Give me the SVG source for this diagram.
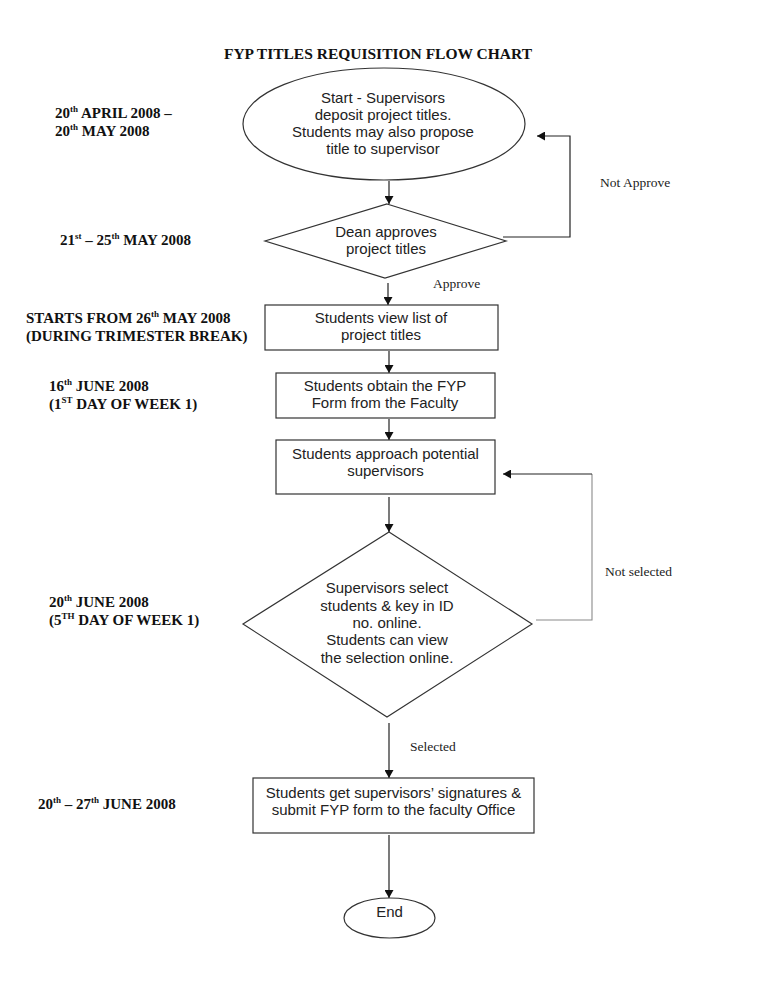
<svg xmlns="http://www.w3.org/2000/svg" width="768" height="994" viewBox="0 0 768 994">
<defs>
<style>
.bg{fill:#ffffff}
.shape{fill:#ffffff;stroke:#333333;stroke-width:1.2}
.conn{fill:none;stroke:#222222;stroke-width:1.2}
.conn.light{stroke:#8a8a8a;stroke-width:1.1}
.node{font-family:"Liberation Sans",Arial,sans-serif;font-size:15px;fill:#222222;text-anchor:middle}
.date{font-family:"Liberation Serif","Times New Roman",serif;font-size:15px;font-weight:bold;fill:#111111}
.title{font-family:"Liberation Serif","Times New Roman",serif;font-size:15.5px;font-weight:bold;fill:#111111;text-anchor:middle}
.lbl{font-family:"Liberation Serif","Times New Roman",serif;font-size:13.5px;fill:#222222}
.sup{font-size:9px}
</style>
<marker id="arr" markerUnits="userSpaceOnUse" markerWidth="8" markerHeight="9" refX="8" refY="4.5" orient="auto">
<path d="M0,0 L8,4.5 L0,9 z" fill="#111111"/>
</marker>
</defs>
<rect class="bg" x="0" y="0" width="768" height="994"/>

<text class="title" x="378" y="59">FYP TITLES REQUISITION FLOW CHART</text>

<g id="dates">
<text class="date" x="55" y="118">20<tspan class="sup" dy="-6">th</tspan><tspan dy="6"> APRIL 2008 –</tspan></text>
<text class="date" x="55" y="136">20<tspan class="sup" dy="-6">th</tspan><tspan dy="6"> MAY 2008</tspan></text>
<text class="date" x="60" y="245">21<tspan class="sup" dy="-6">st</tspan><tspan dy="6"> – 25</tspan><tspan class="sup" dy="-6">th</tspan><tspan dy="6"> MAY 2008</tspan></text>
<text class="date" x="26" y="323">STARTS FROM 26<tspan class="sup" dy="-6">th</tspan><tspan dy="6"> MAY 2008</tspan></text>
<text class="date" x="26" y="341">(DURING TRIMESTER BREAK)</text>
<text class="date" x="49" y="391">16<tspan class="sup" dy="-6">th</tspan><tspan dy="6"> JUNE 2008</tspan></text>
<text class="date" x="49" y="409">(1<tspan class="sup" dy="-6">ST</tspan><tspan dy="6"> DAY OF WEEK 1)</tspan></text>
<text class="date" x="49" y="607">20<tspan class="sup" dy="-6">th</tspan><tspan dy="6"> JUNE 2008</tspan></text>
<text class="date" x="49" y="625">(5<tspan class="sup" dy="-6">TH</tspan><tspan dy="6"> DAY OF WEEK 1)</tspan></text>
<text class="date" x="38" y="809">20<tspan class="sup" dy="-6">th</tspan><tspan dy="6"> – 27</tspan><tspan class="sup" dy="-6">th</tspan><tspan dy="6"> JUNE 2008</tspan></text>
</g>

<g id="connectors">
<path class="conn" d="M389,181 V204" marker-end="url(#arr)"/>
<path class="conn" d="M503,237 H570 V136 H537" marker-end="url(#arr)"/>
<path class="conn" d="M388,283 V305" marker-end="url(#arr)"/>
<path class="conn" d="M389,351 V373" marker-end="url(#arr)"/>
<path class="conn" d="M389,419 V440" marker-end="url(#arr)"/>
<path class="conn" d="M389,497 V532" marker-end="url(#arr)"/>
<path class="conn light" d="M536,620 H592 V474"/>
<path class="conn" d="M592,474 H503" marker-end="url(#arr)"/>
<path class="conn" d="M389,723 V778" marker-end="url(#arr)"/>
<path class="conn" d="M389,835 V898" marker-end="url(#arr)"/>
<text class="lbl" x="600" y="187">Not Approve</text>
<text class="lbl" x="433" y="288">Approve</text>
<text class="lbl" x="605" y="576">Not selected</text>
<text class="lbl" x="410" y="751">Selected</text>
</g>

<g id="start">
<ellipse class="shape" cx="384" cy="124" rx="141" ry="56"/>
<text class="node" x="383" y="103">Start - Supervisors</text>
<text class="node" x="383" y="120">deposit project titles.</text>
<text class="node" x="383" y="137">Students may also propose</text>
<text class="node" x="383" y="154">title to supervisor</text>
</g>

<g id="dean">
<polygon class="shape" points="387,204 506,241 385,278 265,241"/>
<text class="node" x="386" y="237">Dean approves</text>
<text class="node" x="386" y="254">project titles</text>
</g>

<g id="view">
<rect class="shape" x="265" y="305" width="233" height="45"/>
<text class="node" x="381" y="323">Students view list of</text>
<text class="node" x="381" y="340">project titles</text>
</g>

<g id="obtain">
<rect class="shape" x="276" y="373" width="219" height="45"/>
<text class="node" x="385" y="391">Students obtain the FYP</text>
<text class="node" x="385" y="408">Form from the Faculty</text>
</g>

<g id="approach">
<rect class="shape" x="276" y="440" width="219" height="54"/>
<text class="node" x="385.5" y="459">Students approach potential</text>
<text class="node" x="385.5" y="476">supervisors</text>
</g>

<g id="select">
<polygon class="shape" points="389,532 532,624 387,717 243,624"/>
<text class="node" x="387" y="593">Supervisors select</text>
<text class="node" x="387" y="611">students &amp; key in ID</text>
<text class="node" x="387" y="628">no. online.</text>
<text class="node" x="387" y="645">Students can view</text>
<text class="node" x="387" y="663">the selection online.</text>
</g>

<g id="submit">
<rect class="shape" x="253" y="778" width="281" height="55"/>
<text class="node" x="393.5" y="798">Students get supervisors’ signatures &amp;</text>
<text class="node" x="393.5" y="815">submit FYP form to the faculty Office</text>
</g>

<g id="end">
<ellipse class="shape" cx="389.5" cy="918" rx="45.5" ry="20"/>
<text class="node" x="389.5" y="917">End</text>
</g>
</svg>
